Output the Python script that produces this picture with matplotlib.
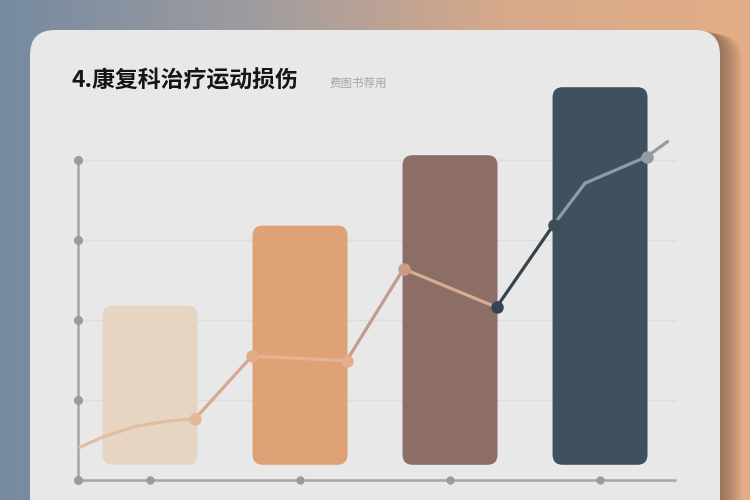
import numpy as np
import matplotlib
matplotlib.use("Agg")
import matplotlib.pyplot as plt
from matplotlib.patches import FancyBboxPatch
from matplotlib.colors import LinearSegmentedColormap

plt.rcParams['font.family'] = ['Noto Sans CJK SC', 'DejaVu Sans']

TITLE = "4.康复科治疗运动损伤"
SUBTITLE = "费图书荐用"

# bars (tops) sit on a small base above the axis
categories = ["1", "2", "3", "4"]
bar_positions = [1, 2, 3, 4]
bar_tops = [2.18, 3.18, 4.06, 4.91]
bar_base = 0.19
bar_colors = ["#E6D5C3", "#DFA277", "#8C6E66", "#3F515D"]

# trend line
line_x = [0.533, 0.689, 0.911, 1.133, 1.30, 1.68, 2.31, 2.69, 3.31, 3.69, 3.90, 4.31, 4.45]
line_y = [0.41, 0.54, 0.675, 0.74, 0.765, 1.55, 1.49, 2.64, 2.16, 3.19, 3.71, 4.04, 4.23]
seg_colors = ["#E1BEA1"] * 4 + ["#D7A892", "#E4B394", "#C39A8E", "#D6AC92",
                                "#36434D", "#8D9CA7", "#8D9CA7", "#8D9CA7"]
marker_idx = [4, 5, 6, 7, 8, 9, 11]
marker_colors = ["#E6B898", "#E3AC88", "#E5AE8B", "#CB9C84", "#34434E", "#3E4D58", "#909DA7"]

y_ticks = [0, 1, 2, 3, 4]
x_ticks = [1, 2, 3, 4]

AXIS_GRAY = "#A6A6A6"
DOT_GRAY = "#9B9B9B"
GRID = "#DDDDDD"
CARD = "#E8E8E8"

fig = plt.figure(figsize=(7.5, 5), dpi=100)

# background gradient + card, in pixel units
bg = fig.add_axes([0, 0, 1, 1])
bg.set_xlim(0, 750)
bg.set_ylim(500, 0)
bg.axis('off')
cmap = LinearSegmentedColormap.from_list("bg", ["#768AA1", "#9E9C9F", "#D6A98B", "#E3AE87"])
grad = np.linspace(0, 1, 256).reshape(1, -1)
bg.imshow(grad, cmap=cmap, extent=[0, 750, 500, 0], aspect='auto', zorder=0)

# soft shadow to the right of the card
for i in range(10):
    sh = FancyBboxPatch((30, 30 + i * 0.5), 690 + 2 + i * 2.2, 520,
                        boxstyle="round,pad=0,rounding_size=26",
                        fc="#4A3326", ec='none', alpha=0.055, zorder=1)
    bg.add_patch(sh)
card = FancyBboxPatch((30, 30), 690, 520, boxstyle="round,pad=0,rounding_size=25",
                      fc=CARD, ec='none', zorder=2)
bg.add_patch(card)

bg.text(72, 81, TITLE, fontsize=16.5, fontweight='bold', color="#151515",
        va='center', ha='left', zorder=3)
bg.text(329, 83, SUBTITLE, fontsize=8.3, color="#A5A5A5", va='center', ha='left', zorder=3)

# main chart
ax = fig.add_axes([78 / 750, 20 / 500, 602 / 750, 400 / 500])
ax.set_facecolor('none')
ax.set_xlim(0.52, 4.533)
ax.set_ylim(0, 5)

for y in y_ticks[1:]:
    ax.plot([0.52, 4.5], [y, y], color=GRID, lw=1, zorder=1)

bar_w = 0.633
heights = [t - bar_base for t in bar_tops]
bars = ax.bar(bar_positions, heights, width=bar_w, bottom=bar_base, color=bar_colors, zorder=2)
r = 10 / 150
asp = (1 / 80) / (1 / 150)
for rect in list(bars):
    x0, y0 = rect.get_x(), rect.get_y()
    w, h = rect.get_width(), rect.get_height()
    fc = rect.get_facecolor()
    rect.remove()
    ax.add_patch(FancyBboxPatch((x0, y0), w, h,
                                boxstyle=f"round,pad=0,rounding_size={r}",
                                mutation_aspect=asp, fc=fc, ec='none', zorder=2))

for i in range(len(line_x) - 1):
    ax.plot(line_x[i:i + 2], line_y[i:i + 2], color=seg_colors[i], lw=2.3,
            solid_capstyle='round', zorder=4)
for idx, c in zip(marker_idx, marker_colors):
    ax.plot(line_x[idx], line_y[idx], 'o', ms=9, color=c, mec='none', zorder=5)

for s in ['top', 'right']:
    ax.spines[s].set_visible(False)
ax.spines['left'].set_bounds(0, 4)
ax.spines['bottom'].set_bounds(0.52, 4.5)
for s in ['left', 'bottom']:
    ax.spines[s].set_color(AXIS_GRAY)
    ax.spines[s].set_linewidth(1.8)
    ax.spines[s].set_position(('data', 0.52) if s == 'left' else ('data', 0))
ax.set_xticks([])
ax.set_yticks([])

ax.plot([0.52] * len(y_ticks), y_ticks, 'o', ms=6.5, color=DOT_GRAY, mec='none',
        clip_on=False, zorder=6)
ax.plot(x_ticks, [0] * len(x_ticks), 'o', ms=6, color=DOT_GRAY, mec='none',
        clip_on=False, zorder=6)

fig.savefig("out.png", dpi=100)
